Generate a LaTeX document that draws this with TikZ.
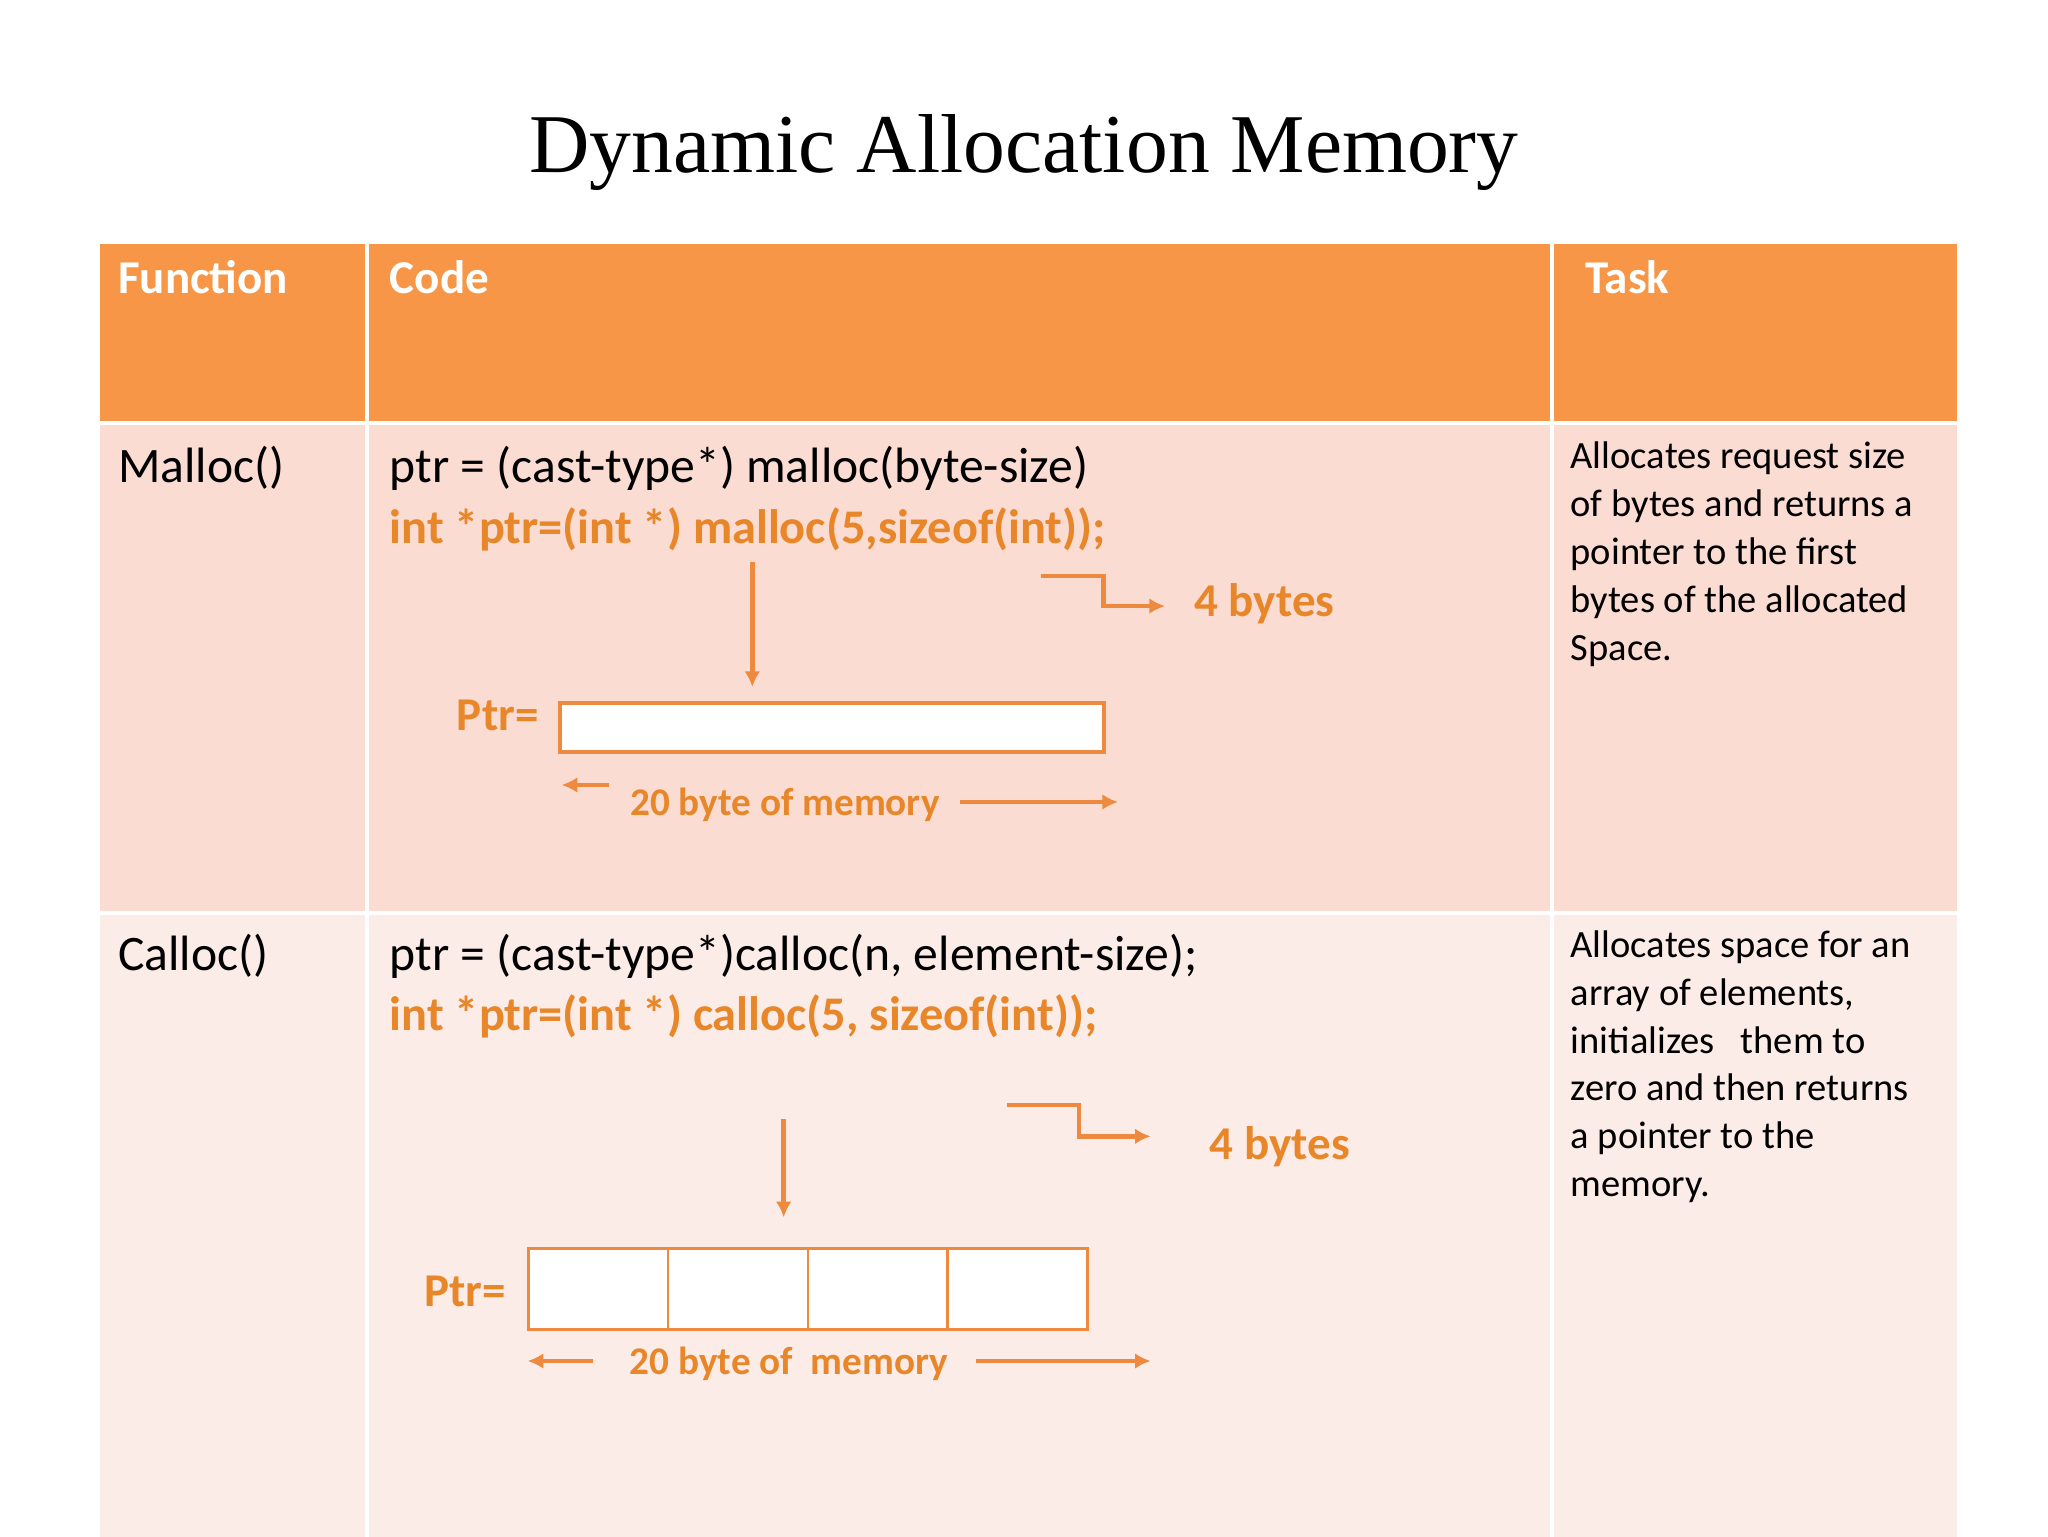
\documentclass[tikz,border=0pt]{standalone}
\usepackage{fontspec}
\usetikzlibrary{arrows.meta}
\setmainfont{Carlito}
\newfontfamily\ttl{Liberation Serif}
\begin{document}
\begin{tikzpicture}[x=1pt,y=-1pt,
 cell/.style={draw=white,line width=3pt},
 hd/.style={anchor=north west,text=white,font=\fontsize{36}{40}\selectfont\bfseries},
 bd/.style={anchor=north west,font=\fontsize{38}{42}\selectfont},
 cd/.style={anchor=north west,text=codeor,font=\fontsize{37}{40}\selectfont\bfseries},
 tk/.style={anchor=north west,align=left,font=\fontsize{29.5}{36.6}\selectfont},
 lb/.style={text=codeor,font=\fontsize{36}{40}\selectfont\bfseries},
 ar/.style={draw=lineor,line width=3.5pt,-{Latex[length=12pt,width=12pt]}}]
\definecolor{hdr}{HTML}{F79646}
\definecolor{r1}{HTML}{FBDCD2}
\definecolor{r2}{HTML}{FCECE8}
\definecolor{codeor}{HTML}{E8862A}
\definecolor{lineor}{HTML}{EE8A40}
\useasboundingbox (0,0) rectangle (1568,1176);
\fill[white] (0,0) rectangle (1568,1176);
\node at (784,117) {\ttl\fontsize{64}{80}\selectfont Dynamic Allocation Memory};
\foreach \a/\b in {75/281,281/1188,1188/1500}{
 \fill[hdr,cell] (\a,185) rectangle (\b,324);
 \fill[r1,cell] (\a,324) rectangle (\b,699);
 \fill[r2,cell] (\a,699) rectangle (\b,1180);}
\node[hd] at (87,196) {Function};
\node[hd] at (295,196) {Code};
\node[hd] at (1210,196) {Task};
\node[bd] at (87,338) {Malloc()};
\node[bd] at (295,338) {ptr = (cast-type*) malloc(byte-size)};
\node[cd] (c1) at (295,385) {int *ptr=(int *) malloc(5,sizeof(int));};
\node[tk] at (1199,335) {Allocates request size\\of bytes and returns a\\pointer to the first\\bytes of the allocated\\Space.};
\node[lb] (b1) at (968,462) {4 bytes};
\coordinate (s1) at (797,441);
\draw[ar] (s1) -- (845,441) -- (845,464) -- (892,464);
\coordinate (d1) at (576,430);
\draw[ar] (d1) -- (576,526);
\node[lb] (p1) at (381,548) {Ptr=};
\node[draw=lineor,line width=3pt,fill=white,minimum width=417pt,minimum height=37pt,inner sep=0pt] (m1) at (637,557) {};
\node[lb,font=\fontsize{30}{30}\selectfont\bfseries] (t1) at (601,616) {20 byte of memory};
\draw[ar] (466,601) coordinate (q1) -- (430,601);
\draw[ar] (735,614) coordinate (q2) -- (856,614);
\node[bd] at (87,712) {Calloc()};
\node[bd] at (295,712) {ptr = (cast-type*)calloc(n, element-size);};
\node[cd] at (295,758) {int *ptr=(int *) calloc(5, sizeof(int));};
\node[tk] at (1199,709) {Allocates space for an\\array of elements,\\initializes\ \ \ them to\\zero and then returns\\a pointer to the\\memory.};
\node[lb] (b2) at (980,878) {4 bytes};
\coordinate (s2) at (771,846);
\draw[ar] (s2) -- (826,846) -- (826,870) -- (881,870);
\coordinate (d2) at (600,857);
\draw[ar] (d2) -- (600,932);
\node[lb] (p2) at (356,989) {Ptr=};
\foreach \i in {0,1,2,3}{
 \node[draw=lineor,line width=2pt,fill=white,minimum width=107pt,minimum height=62pt,inner sep=0pt] (k\i) at (458+107*\i,987) {};}
\node[lb,font=\fontsize{30}{30}\selectfont\bfseries] (t2) at (604,1044) {20 byte of\ \ memory};
\draw[ar] (454,1042) coordinate (q3) -- (404,1042);
\draw[ar] (747,1042) coordinate (q4) -- (881,1042);
\end{tikzpicture}
\end{document}
